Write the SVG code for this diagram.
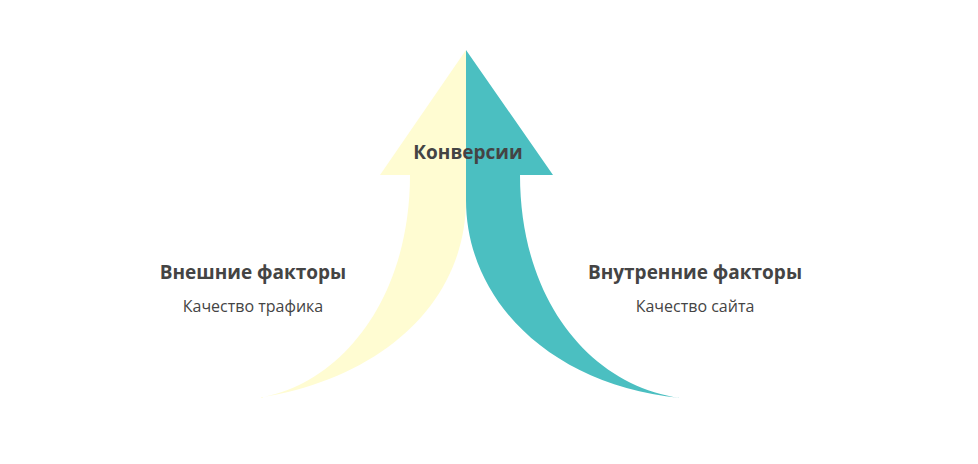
<svg xmlns="http://www.w3.org/2000/svg" width="978" height="464" viewBox="0 0 978 464">
<style>
.t{font-family:"Open Sans","Liberation Sans",sans-serif;fill:#444;text-anchor:middle}
.b{font-weight:bold;font-size:19px}
.s{font-size:16px}
</style>
<rect width="978" height="464" fill="#fff"/>
<g id="connectors"></g>
<g id="external">
<path d="M466,50 L380,175 L410,175 C410,300 340,385 258,398 C385,378 466,300 466,200 Z" fill="#FFFCD2"/>
<text class="t b" x="253" y="279">Внешние факторы</text>
<text class="t s" x="253" y="312">Качество трафика</text>
</g>
<g id="internal">
<path d="M466,50 L553,175 L520,175 C520,300 590,385 680,398 C550,385 466,300 466,200 Z" fill="#4BBFC1"/>
<text class="t b" x="695" y="279">Внутренние факторы</text>
<text class="t s" x="695" y="312">Качество сайта</text>
</g>
<g id="conversion">
<text class="t b" x="468" y="159">Конверсии</text>
</g>
</svg>
